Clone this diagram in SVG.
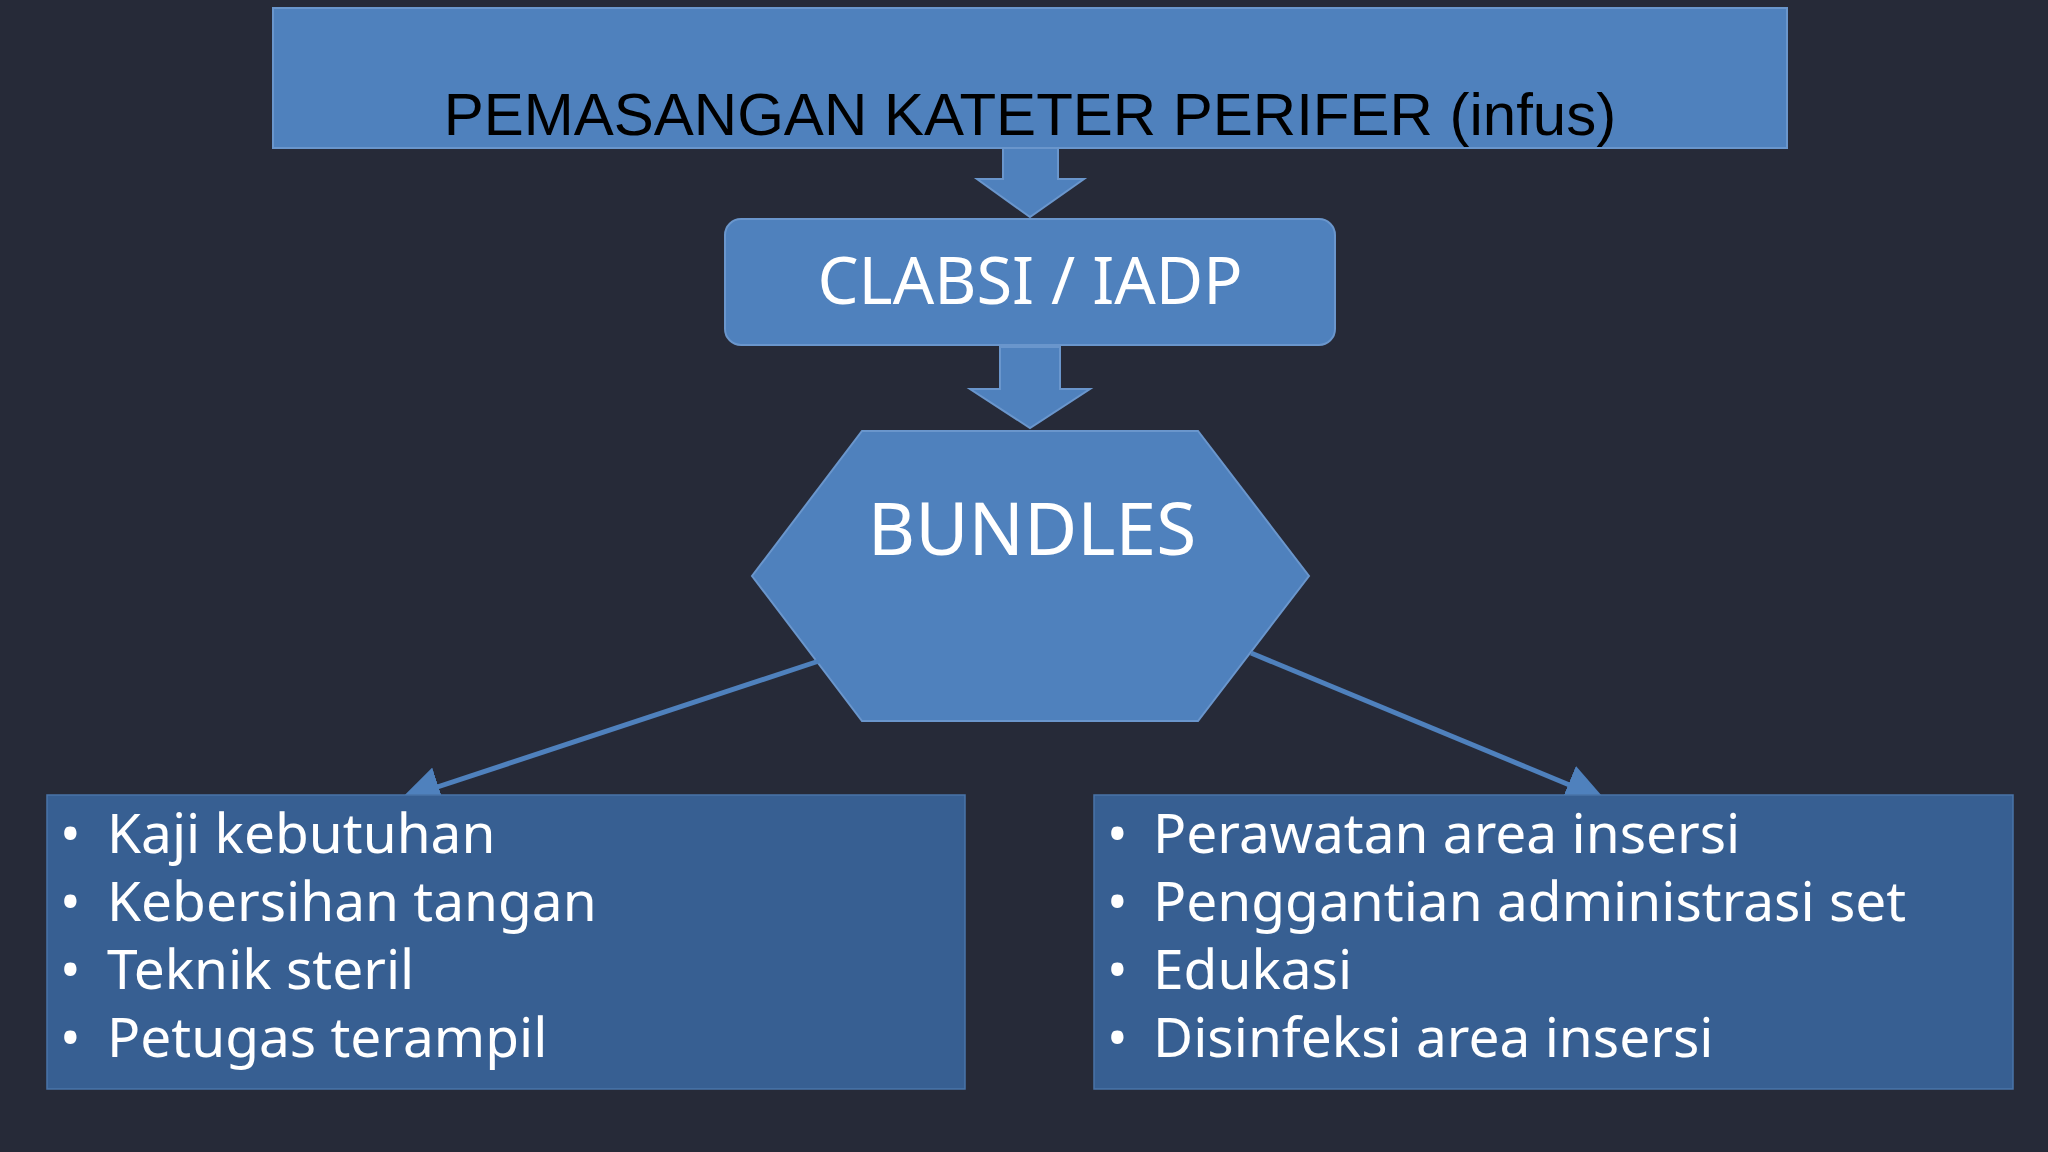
<svg xmlns="http://www.w3.org/2000/svg" width="2048" height="1152" viewBox="0 0 2048 1152">
<style>
.blk{fill:#4f81bd;stroke:#6a96cc;stroke-width:2}
.lst{fill:#375f92;stroke:#4a74a8;stroke-width:1.5}
.wt{fill:#fff;font-family:"Noto Sans","Open Sans",sans-serif}
.li{fill:#fff;font-family:"Noto Sans","Open Sans",sans-serif;font-size:55px}
.con{stroke:#4f81bd;stroke-width:5;fill:none}
</style>
<defs><marker id="ah" markerWidth="8" markerHeight="8" refX="6" refY="4" orient="auto" markerUnits="strokeWidth"><path d="M0,0 L8,4 L0,8 z" fill="#4f81bd"/></marker></defs>
<rect width="2048" height="1152" fill="#262a38"/>
<g id="top"><rect class="blk" x="273" y="8" width="1514" height="140"/>
<text x="1030" y="135" text-anchor="middle" font-family="Liberation Sans,Arial,sans-serif" font-size="60" fill="#000">PEMASANGAN KATETER PERIFER (infus)</text></g>
<g id="arrow1"><path class="blk" stroke="none" d="M1003,148 H1058 V179 H1084 L1030,217 L977,179 H1003 Z"/></g>
<g id="clabsi"><rect class="blk" x="725" y="219" width="610" height="126" rx="16"/>
<text class="wt" x="1030" y="304" text-anchor="middle" font-size="65">CLABSI / IADP</text></g>
<g id="arrow2"><path class="blk" stroke="none" d="M1000,347 H1060 V389 H1090 L1030,428 L970,389 H1000 Z"/></g>
<g id="bundles"><polygon class="blk" points="862,431 1198,431 1309,576 1198,721 862,721 752,576"/>
<text class="wt" x="1032" y="555" text-anchor="middle" font-size="73">BUNDLES</text></g>
<g id="connectors"><line class="con" x1="819" y1="661" x2="410" y2="796" marker-end="url(#ah)"/><line class="con" x1="1251" y1="653" x2="1596" y2="796" marker-end="url(#ah)"/></g>
<g id="left"><rect class="lst" x="47" y="795" width="918" height="294"/>
<text class="li" x="60" y="853">• <tspan x="107">Kaji kebutuhan</tspan></text>
<text class="li" x="60" y="921">• <tspan x="107">Kebersihan tangan</tspan></text>
<text class="li" x="60" y="989">• <tspan x="107">Teknik steril</tspan></text>
<text class="li" x="60" y="1057">• <tspan x="107">Petugas terampil</tspan></text></g>
<g id="right"><rect class="lst" x="1094" y="795" width="919" height="294"/>
<text class="li" x="1107" y="853">• <tspan x="1153">Perawatan area insersi</tspan></text>
<text class="li" x="1107" y="921">• <tspan x="1153">Penggantian administrasi set</tspan></text>
<text class="li" x="1107" y="989">• <tspan x="1153">Edukasi</tspan></text>
<text class="li" x="1107" y="1057">• <tspan x="1153">Disinfeksi area insersi</tspan></text></g>
</svg>
